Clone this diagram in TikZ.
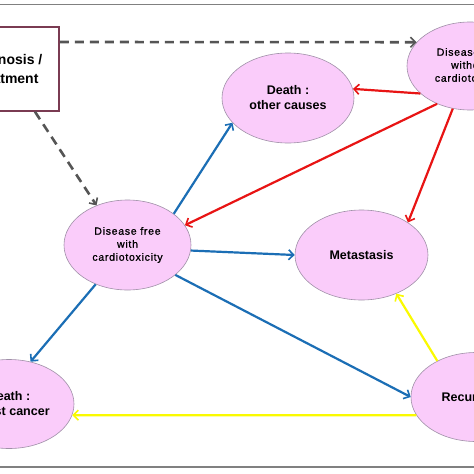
\documentclass[tikz,border=0pt]{standalone}
\usepackage{fontspec}
\setmainfont{Liberation Sans}
\newfontfamily\spacedfont[LetterSpace=7,FakeBold=1]{Liberation Sans}
\usetikzlibrary{shapes.geometric}
\usetikzlibrary{arrows.meta}
\definecolor{statepink}{HTML}{FACCFA}
\definecolor{stateline}{HTML}{A090A8}
\definecolor{boxline}{HTML}{7A3B52}
\definecolor{arrblue}{HTML}{1B6EB5}
\definecolor{arrred}{HTML}{E81414}
\definecolor{arryellow}{HTML}{FAFA00}
\definecolor{arrgray}{HTML}{555555}
\definecolor{rulegray}{HTML}{808080}
\tikzset{
x=1pt,y=-1pt,
>={Straight Barb[length=5pt,width=10pt,line width=1.6pt]},
my state/.style={ellipse,draw=stateline,line width=0.6pt,fill=statepink,inner sep=0pt,
  minimum width=130pt,minimum height=89pt,align=center},
big text/.style={font=\fontsize{12.5}{15}\selectfont\bfseries},
small text/.style={font=\fontsize{10.5}{13}\selectfont\spacedfont},
my box/.style={rectangle,draw=boxline,line width=1.5pt,fill=white,minimum width=108pt,
  minimum height=84pt,align=center,font=\fontsize{14}{19}\selectfont\bfseries},
blue arr/.style={->,color=arrblue,line width=2.2pt},
red arr/.style={->,color=arrred,line width=2.2pt},
yellow arr/.style={->,color=arryellow,line width=2.2pt},
gray arr/.style={->,color=arrgray,line width=2.6pt,dash pattern=on 9pt off 6pt}
}
\begin{document}
\begin{tikzpicture}
\useasboundingbox (0,0) rectangle (474,474);
\clip (0,0) rectangle (474,474);
\fill[white] (0,0) rectangle (474,474);
% frame lines
\draw[rulegray,line width=1.5pt] (0,4.7) -- (474,4.7);
\draw[rulegray,line width=1.5pt] (0,467) -- (474,467);
% states
\node[my box] (diag) at (5,69) {Diagnosis /\\Treatment};
\node[my state,small text,minimum width=127pt,minimum height=90pt] (dfc) at (127.5,245)
  {Disease free\\with\\cardiotoxicity};
\node[my state,small text,minimum width=126pt,minimum height=88pt] (dwc) at (470,66)
  {Disease free\\without\\cardiotoxicity};
\node[my state,big text,minimum width=132pt,minimum height=90pt] (doc) at (288,98)
  {Death :\\other causes};
\node[my state,big text,minimum width=133pt,minimum height=90pt] (met) at (361.5,255)
  {Metastasis};
\node[my state,big text] (dbc) at (9,404) {Death :\\breast cancer};
\node[my state,big text] (rec) at (476,397) {Recurrence};
% transitions
\path (diag.east) ++(0,-27) coordinate (diagtop);
\path (diag.south) ++(30,0) coordinate (diagbot);
\path[gray arr] (diagtop) edge (dwc.156)
                (diagbot) edge (dfc.128);
\path[red arr] (dwc.209) edge (doc.8)
               (dwc.229) edge (dfc.19)
               (dwc.248) edge (met.35);
\path[blue arr] (dfc.34) edge (doc.204)
                (dfc.355) edge (met.180)
                (dfc.328) edge (rec.180)
                (dfc.231) edge (dbc.63);
\path[yellow arr] (rec.137) edge (met.312)
                  (rec.197) edge (dbc.350);
\end{tikzpicture}
\end{document}
